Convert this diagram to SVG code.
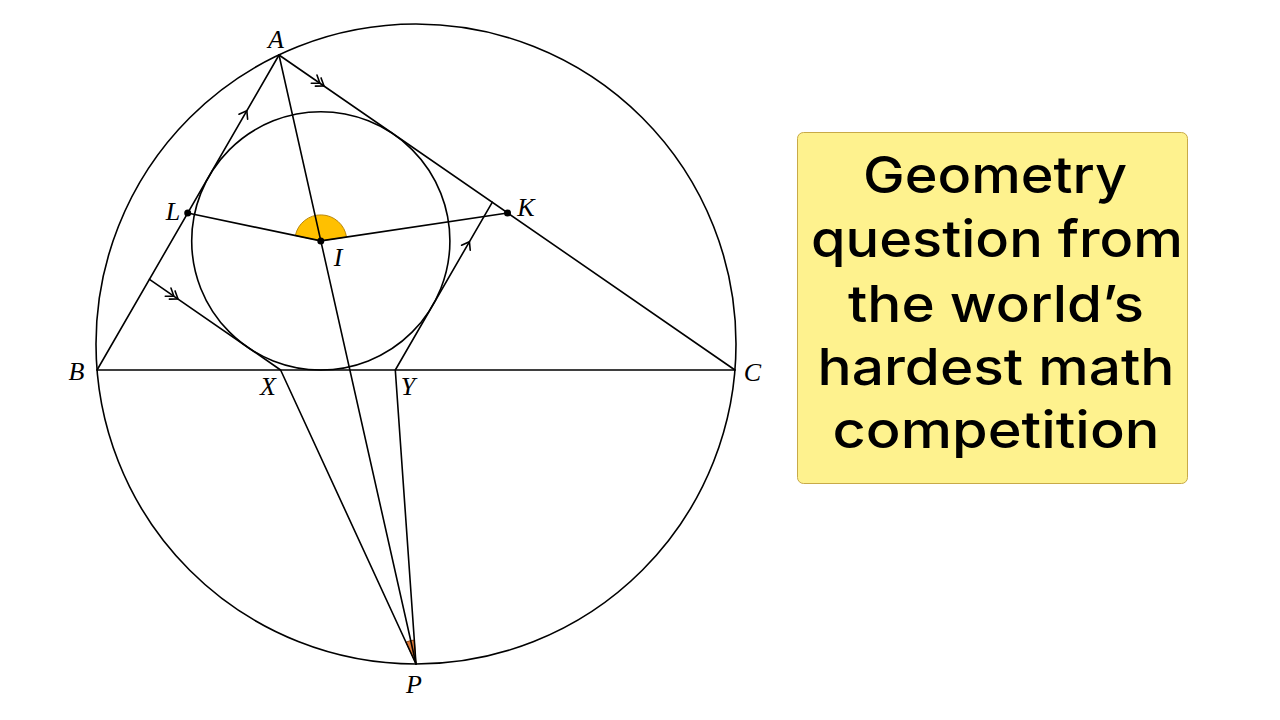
<svg xmlns="http://www.w3.org/2000/svg" xmlns:xlink="http://www.w3.org/1999/xlink" width="1280" height="720" viewBox="0 0 1280 720">
<style>
.ln{fill:none;stroke:#000;stroke-width:1.6;stroke-linejoin:round;stroke-linecap:round}
.lbl{font-family:"Liberation Serif","DejaVu Serif",serif;font-style:italic;font-size:26px;fill:#000;text-anchor:middle}
.title{font-family:Inter,"Noto Sans","Liberation Sans",sans-serif;font-size:51px;font-weight:500;fill:#000;text-anchor:middle}
.dot{fill:#000}
</style>
<defs>
<path id="chev1" class="ln" d="M-7,-5 L0,0 L-7,5"/>
<path id="chev2" class="ln" d="M-7,-5 L0,0 L-7,5 M-12,-5 L-5,0 L-12,5"/>
</defs>
<rect width="1280" height="720" fill="#fff"/>

<g id="circumcircle"><circle class="ln" cx="416" cy="344" r="320"/></g>
<g id="incircle"><circle class="ln" cx="320.8" cy="240.9" r="129.1"/></g>

<g id="angle-I"><path d="M320.8,240.9 L295.35,235.57 A26,26 0 0 1 346.51,237.06 Z" fill="#FFC000" stroke="#B8860B" stroke-width="1"/></g>
<g id="angle-P"><path d="M416,664 L405.96,642.2 A24,24 0 0 1 414.31,640.06 Z" fill="#E07B39" stroke="#8B4513" stroke-width="1"/></g>

<g id="connectors">
<line class="ln" x1="279" y1="55" x2="97.06" y2="370"/>
<line class="ln" x1="279" y1="55" x2="734.94" y2="370"/>
<line class="ln" x1="97.06" y1="370" x2="734.94" y2="370"/>
<line class="ln" x1="279" y1="55" x2="416" y2="664"/>
<polyline class="ln" points="187.7,213 320.8,240.9 507.5,213"/>
<polyline class="ln" points="149.5,279.3 280.6,370 416,664"/>
<polyline class="ln" points="492.2,202.3 395.3,370 416,664"/>
<use xlink:href="#chev1" href="#chev1" transform="translate(246.8,110.7) rotate(-60)"/>
<use xlink:href="#chev1" href="#chev1" transform="translate(469.4,241.7) rotate(-60)"/>
<use xlink:href="#chev2" href="#chev2" transform="translate(324,86) rotate(34.6)"/>
<use xlink:href="#chev2" href="#chev2" transform="translate(178,299) rotate(34.6)"/>
</g>

<g id="point-A"><text class="lbl" x="276" y="48">A</text></g>
<g id="point-B"><text class="lbl" x="76.5" y="380">B</text></g>
<g id="point-C"><text class="lbl" x="752.5" y="381">C</text></g>
<g id="point-L"><circle class="dot" cx="187.7" cy="213" r="3.5"/><text class="lbl" x="173" y="220">L</text></g>
<g id="point-K"><circle class="dot" cx="507.5" cy="213" r="3.5"/><text class="lbl" x="526" y="216">K</text></g>
<g id="point-I"><circle class="dot" cx="320.8" cy="240.9" r="3.5"/><text class="lbl" x="338" y="266">I</text></g>
<g id="point-X"><text class="lbl" x="268" y="395">X</text></g>
<g id="point-Y"><text class="lbl" x="408" y="395">Y</text></g>
<g id="point-P"><text class="lbl" x="414" y="693">P</text></g>

<g id="title-box">
<rect x="797.5" y="132.5" width="390" height="351" rx="6" fill="#FEF28E" stroke="#C8AA48" stroke-width="1"/>
<text class="title" x="995" y="193.3" textLength="264" lengthAdjust="spacingAndGlyphs">Geometry</text>
<text class="title" x="997" y="256.7" textLength="372" lengthAdjust="spacingAndGlyphs">question from</text>
<text class="title" x="996" y="321.7" textLength="296" lengthAdjust="spacingAndGlyphs">the world’s</text>
<text class="title" x="996" y="385" textLength="357" lengthAdjust="spacingAndGlyphs">hardest math</text>
<text class="title" x="996" y="448.3" textLength="327" lengthAdjust="spacingAndGlyphs">competition</text>
</g>
</svg>
